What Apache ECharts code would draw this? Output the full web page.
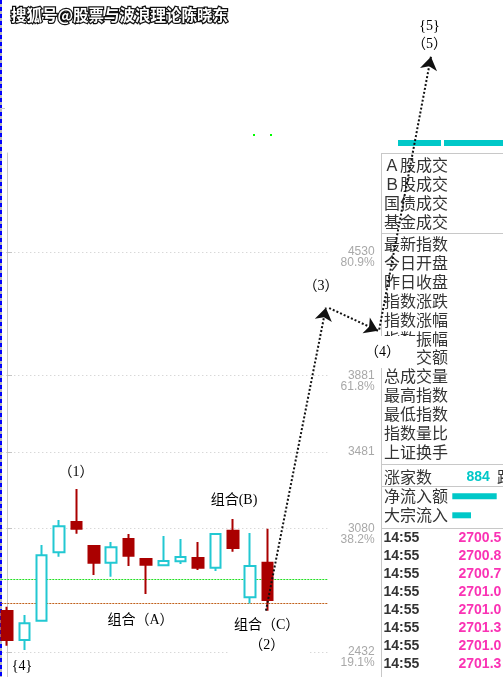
<!DOCTYPE html>
<html><head><meta charset="utf-8">
<script src="https://cdn.jsdelivr.net/npm/echarts@6/dist/echarts.min.js"></script>
<style>html,body{margin:0;padding:0;background:#fff;overflow:hidden}#c{width:503px;height:677px}</style>
</head><body><div id="c"></div>
<script>
// ---- candle data ----
const categories = ['D1','D2','D3','D4','D5','D6','D7','D8','D9','D10','D11','D12','D13','D14','D15','D16','E1','E2','E3'];
const openP  = [2647, 2495, 2596, 2955, 3114, 2988, 2900, 3025, 2920, 2887, 2908, 2925, 2874, 3068, 2719, 2900];
const closeP = [2495, 2583, 2939, 3091, 3079, 2900, 2981, 2937, 2890, 2909, 2930, 2874, 3051, 2978, 2883, 2705];
const lowP   = [2465, 2443, 2596, 2932, 3052, 2836, 2827, 2883, 2736, 2887, 2894, 2862, 2857, 2958, 2687, 2649];
const highP  = [2670, 2626, 2993, 3124, 3287, 2988, 3009, 3051, 2922, 3040, 3025, 3009, 3051, 3130, 3056, 3079];

// ---- axis ticks ----
const tickValues   = [2432, 3080, 3481, 3881, 4530];
const tickPercents = ['19.1%', '38.2%', '', '61.8%', '80.9%'];
const greenLevel = 2815;
const orangeLevel = 2687;

// ---- annotations (x in candle-index units, y in price) ----
const annoText = ['（1）', '{4}', '组合（A）', '组合(B)', '组合（C）', '（2）', '（3）', '（4）', '{5}', '（5）'];
const annoX    = [3.97, 0.86, 7.69, 13.07, 14.95, 14.95, 18.08, 21.62, 24.33, 24.33];
const annoY    = [3374, 2357, 2596, 3226, 2572, 2470, 4350, 4027, 5713, 5617];

// ---- wave arrows ----
const arrowFromX = [14.91, 18.55, 21.43];
const arrowFromY = [2649, 4236, 4123];
const arrowToX   = [18.36, 21.36, 24.41];
const arrowToY   = [4238, 4117, 5554];

// ---- right panel texts ----
const panelGroup1 = ['Ａ股成交', 'Ｂ股成交', '国债成交', '基金成交'];
const panelGroup2 = ['最新指数', '今日开盘', '昨日收盘', '指数涨跌', '指数涨幅', '指数振幅', '总成交额', '总成交量', '最高指数', '最低指数', '指数量比', '上证换手'];
const riseLabel = '涨家数', riseCount = '884', fallLabel = '跌家数';
const flowLabels = ['净流入额', '大宗流入'];
const flowValues = [44.4, 18.7];
const tickTimes  = ['14:55', '14:55', '14:55', '14:55', '14:55', '14:55', '14:55', '14:55'];
const tickPrices = ['2700.5', '2700.8', '2700.7', '2701.0', '2701.0', '2701.3', '2701.0', '2701.3'];

const candleData = openP.map((o, i) => [o, closeP[i], lowP[i], highP[i]]);

const CJK = '"Noto Sans CJK SC"';
const GRAY = '#c8c8c8';
const CYAN = '#00c8c8';

const graphics = [];
// left border
graphics.push({type:'line', z:1, shape:{x1:1, y1:0, x2:1, y2:677}, style:{stroke:'#b8b8b8', lineWidth:2}});
graphics.push({type:'line', z:1, shape:{x1:1, y1:0, x2:1, y2:677}, style:{stroke:'#0000ff', lineWidth:2, lineDash:[4,3]}});
graphics.push({type:'line', z:1, shape:{x1:0, y1:108.5, x2:5, y2:108.5}, style:{stroke:GRAY, lineWidth:1}});
// green dots
graphics.push({type:'rect', z:1, shape:{x:253, y:134, width:2, height:2}, style:{fill:'#00ff00'}});
graphics.push({type:'rect', z:1, shape:{x:270, y:134, width:2, height:2}, style:{fill:'#00ff00'}});
// top cyan bars
graphics.push({type:'rect', z:1, shape:{x:398, y:140, width:43, height:6}, style:{fill:CYAN}});
graphics.push({type:'rect', z:1, shape:{x:444, y:140, width:59, height:6}, style:{fill:CYAN}});
// panel frame
graphics.push({type:'line', z:1, shape:{x1:381.5, y1:153, x2:381.5, y2:677}, style:{stroke:GRAY, lineWidth:1}});
[153.5, 233.5, 464.5, 486.5, 528.5].forEach(y => {
  graphics.push({type:'line', z:1, shape:{x1:381, y1:y, x2:503, y2:y}, style:{stroke:GRAY, lineWidth:1}});
});
function ptext(t, x, y, font, fill) {
  graphics.push({type:'text', z:1, x:x, y:y, style:{text:t, font:font, fill:fill, align:'left', verticalAlign:'middle'}});
}
panelGroup1.forEach((t, i) => ptext(t, 384, 165 + i * 19, '16px ' + CJK, '#333'));
panelGroup2.forEach((t, i) => ptext(t, 384, 244 + i * 18.9, '16px ' + CJK, '#333'));
ptext(riseLabel, 384, 477, '16px ' + CJK, '#333');
ptext(riseCount, 466.5, 477, 'bold 14px "Liberation Sans"', CYAN);
ptext(fallLabel, 497, 477, '16px ' + CJK, '#333');
flowLabels.forEach((t, i) => ptext(t, 384, 496.3 + i * 19, '16px ' + CJK, '#333'));
tickTimes.forEach((t, i) => ptext(t, 383.5, 538.5 + i * 18, 'bold 14px "Liberation Sans"', '#333'));
tickPrices.forEach((t, i) => ptext(t, 458.5, 538.5 + i * 18, 'bold 14px "Liberation Sans"', '#fa32b4'));

const labelOverrides = {
  5: {backgroundColor:'#fff', padding:[1, 24, 3, 21], offset:[1.5, 1]},
  7: {backgroundColor:'#fff', padding:[5, 16, 13, 3], offset:[6.5, 4]}
};

const chart = echarts.init(document.getElementById('c'), null, {renderer:'canvas'});
chart.setOption({
  animation: false,
  backgroundColor: '#fff',
  title: {
    text: '搜狐号@股票与波浪理论陈晓东', left: 11, top: 7, padding: 0,
    textStyle: {color:'#fff', fontSize:15.5, fontWeight:'bold', fontFamily:CJK, textBorderColor:'#111', textBorderWidth:2.5}
  },
  grid: [
    {left: -1.7, top: 153, width: 330, bottom: 0, outerBoundsMode: 'none', containLabel: false},
    {left: 452.3, top: 486.8, width: 50.7, height: 38, outerBoundsMode: 'none', containLabel: false}
  ],
  xAxis: [
    {type:'category', gridIndex:0, data: categories, boundaryGap:true, show:false},
    {type:'value', gridIndex:0, min:-0.5, max:18.5, show:false},
    {type:'value', gridIndex:1, min:0, max:50.7, show:false}
  ],
  yAxis: [
    {type:'value', gridIndex:0, position:'right', offset:2.3, min:2300.9, max:5049.3, scale:true,
     axisLine:{show:true, lineStyle:{color:GRAY, width:1}},
     axisTick:{show:true, customValues: tickValues, length:5, lineStyle:{color:'#c0c0c0'}},
     axisLabel:{show:true, customValues: tickValues, align:'right', margin:44, color:'#a8a8a8', fontSize:12, lineHeight:11,
       fontFamily:'"Liberation Sans"',
       formatter: v => { const i = tickValues.indexOf(v); return tickPercents[i] ? '\n' + v + '\n' + tickPercents[i] : String(v); }},
     splitLine:{show:false}},
    {type:'category', gridIndex:1, data: flowLabels, inverse:true, show:false}
  ],
  graphic: {elements: graphics},
  series: [
    {
      type:'candlestick', xAxisIndex:0, yAxisIndex:0, data: candleData, barWidth: 11, z:3,
      itemStyle:{color:'#ffffff', color0:'#aa0000', borderColor:'#22c8d2', borderColor0:'#aa0000', borderWidth:2},
      markLine: {
        silent:true, symbol:['none','none'], label:{show:false}, z:2,
        data: [
          ...tickValues.map(v => ({yAxis: v, lineStyle:{color:GRAY, type:[1,3], width:1}})),
          {yAxis: greenLevel, lineStyle:{color:'#22e022', type:[2,1], width:1}},
          {yAxis: orangeLevel, lineStyle:{color:'#c0601a', type:[2,1], width:1}}
        ]
      }
    },
    {
      type:'lines', coordinateSystem:'cartesian2d', xAxisIndex:1, yAxisIndex:0, clip:false, z:12, silent:true,
      symbol:['none','arrow'], symbolSize:13,
      lineStyle:{color:'#111', width:2, type:[2,2], opacity:1, curveness:0},
      data: arrowFromX.map((x, i) => ({coords: [[x, arrowFromY[i]], [arrowToX[i], arrowToY[i]]]}))
    },
    {
      type:'scatter', xAxisIndex:1, yAxisIndex:0, symbolSize:0, clip:false, z:10, silent:true,
      itemStyle:{opacity:1},
      label:{show:true, position:'inside', formatter: p => p.name, color:'#000', fontSize:14, opacity:1,
        fontFamily:'"Liberation Serif", "Noto Sans CJK SC", serif'},
      data: annoText.map((t, i) => ({name: t, value: [annoX[i], annoY[i]], label: Object.assign({}, labelOverrides[i] || {})}))
    },
    {
      type:'bar', xAxisIndex:2, yAxisIndex:1, data: flowValues, barWidth:6, silent:true,
      itemStyle:{color:CYAN}
    }
  ]
});
</script>
</body></html>
